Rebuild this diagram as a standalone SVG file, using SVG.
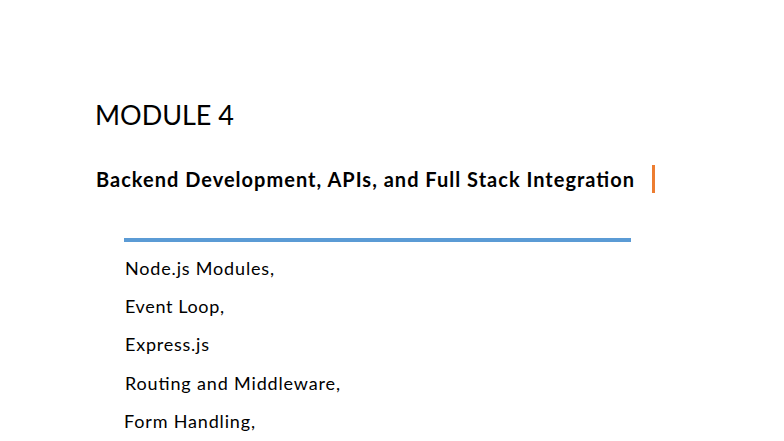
<svg xmlns="http://www.w3.org/2000/svg" width="784" height="441" viewBox="0 0 784 441">
<style>
.t{font-family:Lato,"Open Sans",sans-serif;fill:#000}
.i{font-size:18px}
</style>
<rect width="784" height="441" fill="#fff"/>
<text class="t" x="95" y="125" font-size="27" textLength="139">MODULE 4</text>
<text class="t" x="96" y="187" font-size="20" font-weight="bold" textLength="538">Backend Development, APIs, and Full Stack Integration</text>
<rect x="652" y="165" width="3" height="28" fill="#ed7d31"/>
<rect x="124" y="238" width="507" height="4" fill="#5b9bd5"/>
<text class="t i" x="125" y="275" textLength="149">Node.js Modules,</text>
<text class="t i" x="125" y="313" textLength="99">Event Loop,</text>
<text class="t i" x="125" y="351" textLength="84">Express.js</text>
<text class="t i" x="125" y="390" textLength="215">Routing and Middleware,</text>
<text class="t i" x="124" y="428" textLength="131">Form Handling,</text>
</svg>
